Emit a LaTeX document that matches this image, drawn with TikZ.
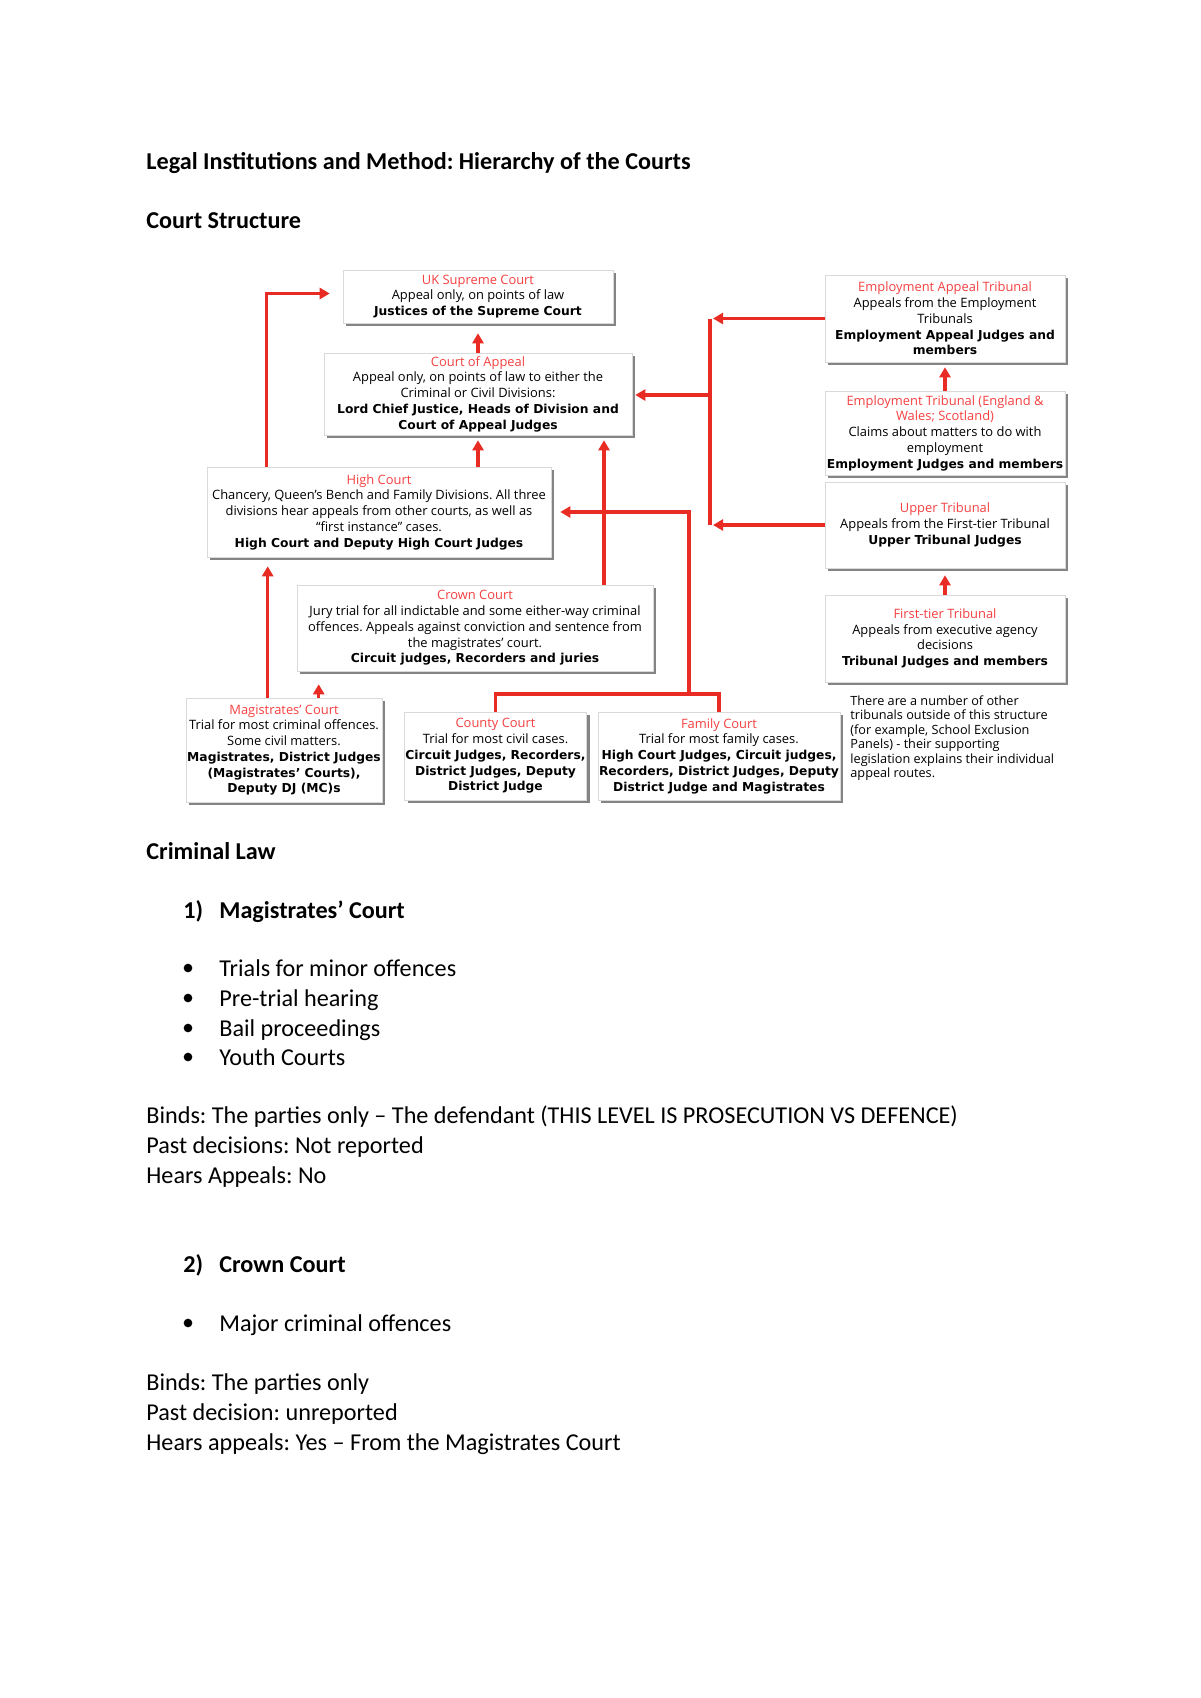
\documentclass[tikz,border=0pt]{standalone}
\usepackage{fontspec}
\setmainfont{Carlito}
\newfontfamily\osans{Open Sans}
\newfontfamily\dvs{DejaVu Sans}
\usetikzlibrary{arrows.meta,shadows}
\newlength\px \setlength\px{0.4961pt}
\definecolor{arrred}{RGB}{232,44,36}
\definecolor{titred}{RGB}{245,65,65}
\newcommand\ttl[1]{\textcolor{titred}{#1}}
\newcommand\bld[1]{{\dvs\bfseries\fontsize{6.1}{7.8}\selectfont #1}}
\frenchspacing
\tikzset{
  court/.style={draw=black!15, line width=0.3pt, fill=white, rectangle, inner sep=0pt,
    align=center, font=\osans\fontsize{6.4}{7.8}\selectfont,
    drop shadow={shadow xshift=1.6pt, shadow yshift=-1.6pt, fill=black!60, opacity=0.8}},
  arr/.style={draw=arrred, line width=1.6pt, -{Triangle[length=5pt,width=5.5pt]}},
  conn/.style={draw=arrred, line width=1.6pt},
  body/.style={anchor=base west, inner sep=0pt, font=\frenchspacing\fontsize{12}{14.6}\selectfont},
  head/.style={anchor=base west, inner sep=0pt, font=\frenchspacing\bfseries\fontsize{12}{14.6}\selectfont},
  dot/.style={circle, fill=black, inner sep=0pt, minimum size=4.3pt},
}
\begin{document}
\begin{tikzpicture}[x=0.4961pt,y=-0.4961pt]
\useasboundingbox[fill=white] (0,0) rectangle (1200,1698);

% page text
\node[head] (t1) at (146,169) {Legal Institutions and Method: Hierarchy of the Courts};
\node[head] (t2) at (146,228) {Court Structure};

% courts
\node[court, minimum width=270\px, minimum height=53\px] (uksc) at (478,296.5)
  {\ttl{UK Supreme Court}\\Appeal only, on points of law\\\bld{Justices of the Supreme Court}};
\node[court, minimum width=308\px, minimum height=82\px] (coa) at (478,394)
  {\ttl{Court of Appeal}\\Appeal only, on points of law to either the\\Criminal or Civil Divisions:\\\bld{Lord Chief Justice, Heads of Division and}\\\bld{Court of Appeal Judges}};
\node[court, minimum width=344\px, minimum height=90\px] (hc) at (379,512)
  {\ttl{High Court}\\Chancery, Queen’s Bench and Family Divisions. All three\\divisions hear appeals from other courts, as well as\\“first instance” cases.\\\bld{High Court and Deputy High Court Judges}};
\node[court, minimum width=356\px, minimum height=86\px] (crown) at (475,628)
  {\ttl{Crown Court}\\Jury trial for all indictable and some either-way criminal\\offences. Appeals against conviction and sentence from\\the magistrates’ court.\\\bld{Circuit judges, Recorders and juries}};
\node[court, minimum width=196\px, minimum height=104\px] (mag) at (284,750)
  {\ttl{Magistrates’ Court}\\Trial for most criminal offences.\\Some civil matters.\\\bld{Magistrates, District Judges}\\\bld{(Magistrates’ Courts),}\\\bld{Deputy DJ (MC)s}};
\node[court, minimum width=182\px, minimum height=88\px] (county) at (495.5,756)
  {\ttl{County Court}\\Trial for most civil cases.\\\bld{Circuit Judges, Recorders,}\\\bld{District Judges, Deputy}\\\bld{District Judge}};
\node[court, minimum width=242\px, minimum height=88\px] (family) at (719,756)
  {\ttl{Family Court}\\Trial for most family cases.\\\bld{High Court Judges, Circuit judges,}\\\bld{Recorders, District Judges, Deputy}\\\bld{District Judge and Magistrates}};

% tribunals
\node[court, minimum width=240\px, minimum height=87\px] (eat) at (945,318.5)
  {\ttl{Employment Appeal Tribunal}\\Appeals from the Employment\\Tribunals\\\bld{Employment Appeal Judges and}\\\bld{members}};
\node[court, minimum width=240\px, minimum height=84\px] (et) at (945,433)
  {\ttl{Employment Tribunal (England \&}\\\ttl{Wales; Scotland)}\\Claims about matters to do with\\employment\\\bld{Employment Judges and members}};
\node[court, minimum width=240\px, minimum height=86\px] (ut) at (945,525)
  {\ttl{Upper Tribunal}\\Appeals from the First-tier Tribunal\\\bld{Upper Tribunal Judges}};
\node[court, minimum width=240\px, minimum height=87\px] (ftt) at (945,638.5)
  {\ttl{First-tier Tribunal}\\Appeals from executive agency\\decisions\\\bld{Tribunal Judges and members}};
\node[anchor=west, align=left, inner sep=0pt, font=\osans\fontsize{6.3}{7.2}\selectfont] (note) at (850,738)
  {There are a number of other\\tribunals outside of this structure\\(for example, School Exclusion\\Panels) - their supporting\\legislation explains their individual\\appeal routes.};

% connectors
\draw[arr, shorten >=10\px] (coa.north) -- (uksc.south);
\draw[arr, shorten >=5\px] (hc.north -| coa.south) -- (coa.south);
\draw[arr, shorten >=5\px] ([xshift=129\px]crown.north) -- ([xshift=129\px]crown.north |- coa.south);
\draw[arr, shorten >=13\px] ([xshift=60\px]hc.north west) |- ([yshift=3\px]uksc.west);
\draw[arr, shorten >=9\px] ([xshift=82\px]mag.north west) -- ([xshift=82\px]mag.north west |- hc.south);
\draw[arr, shorten >=13\px] ([xshift=133\px]mag.north west) -- ([xshift=133\px]mag.north west |- crown.south);
\coordinate (j) at (689,694);
\draw[conn] (county.north) |- (j) -| (family.north);
\draw[arr, shorten >=9\px] (j) |- (hc.east);

\coordinate (rt) at (710,318.5);
\coordinate (rb) at (710,525);
\coordinate (rm) at (710,395);
\draw[conn] (rt) -- (rb);
\draw[arr, shorten >=3\px] (eat.west) -- (rt);
\draw[arr, shorten >=3\px] (ut.west) -- (rb);
\draw[arr, shorten >=3\px] (rm) -- (rm -| coa.east);
\draw[arr, shorten >=5\px] (et.north) -- (eat.south);
\draw[arr, shorten >=7\px] (ftt.north) -- (ut.south);

% criminal law text
\node[head] (t3) at (146,859) {Criminal Law};
\node[head] (n1) at (183,918) {1)};
\node[head] (h1) at (219,918) {Magistrates’ Court};
\node[dot] (d1) at (188,968) {};
\node[body] (b1) at (219,976) {Trials for minor offences};
\node[dot] (d2) at (188,998) {};
\node[body] (b2) at (219,1006) {Pre-trial hearing};
\node[dot] (d3) at (188,1028) {};
\node[body] (b3) at (219,1036) {Bail proceedings};
\node[dot] (d4) at (188,1057) {};
\node[body] (b4) at (219,1065) {Youth Courts};
\node[body] (p1) at (146,1123) {Binds: The parties only – The defendant (THIS LEVEL IS PROSECUTION VS DEFENCE)};
\node[body] (p2) at (146,1153) {Past decisions: Not reported};
\node[body] (p3) at (146,1183) {Hears Appeals: No};

\node[head] (n2) at (183,1272) {2)};
\node[head] (h2) at (219,1272) {Crown Court};
\node[dot] (d5) at (188,1323) {};
\node[body] (b5) at (219,1331) {Major criminal offences};
\node[body] (q1) at (146,1390) {Binds: The parties only};
\node[body] (q2) at (146,1420) {Past decision: unreported};
\node[body] (q3) at (146,1450) {Hears appeals: Yes – From the Magistrates Court};
\end{tikzpicture}
\end{document}
